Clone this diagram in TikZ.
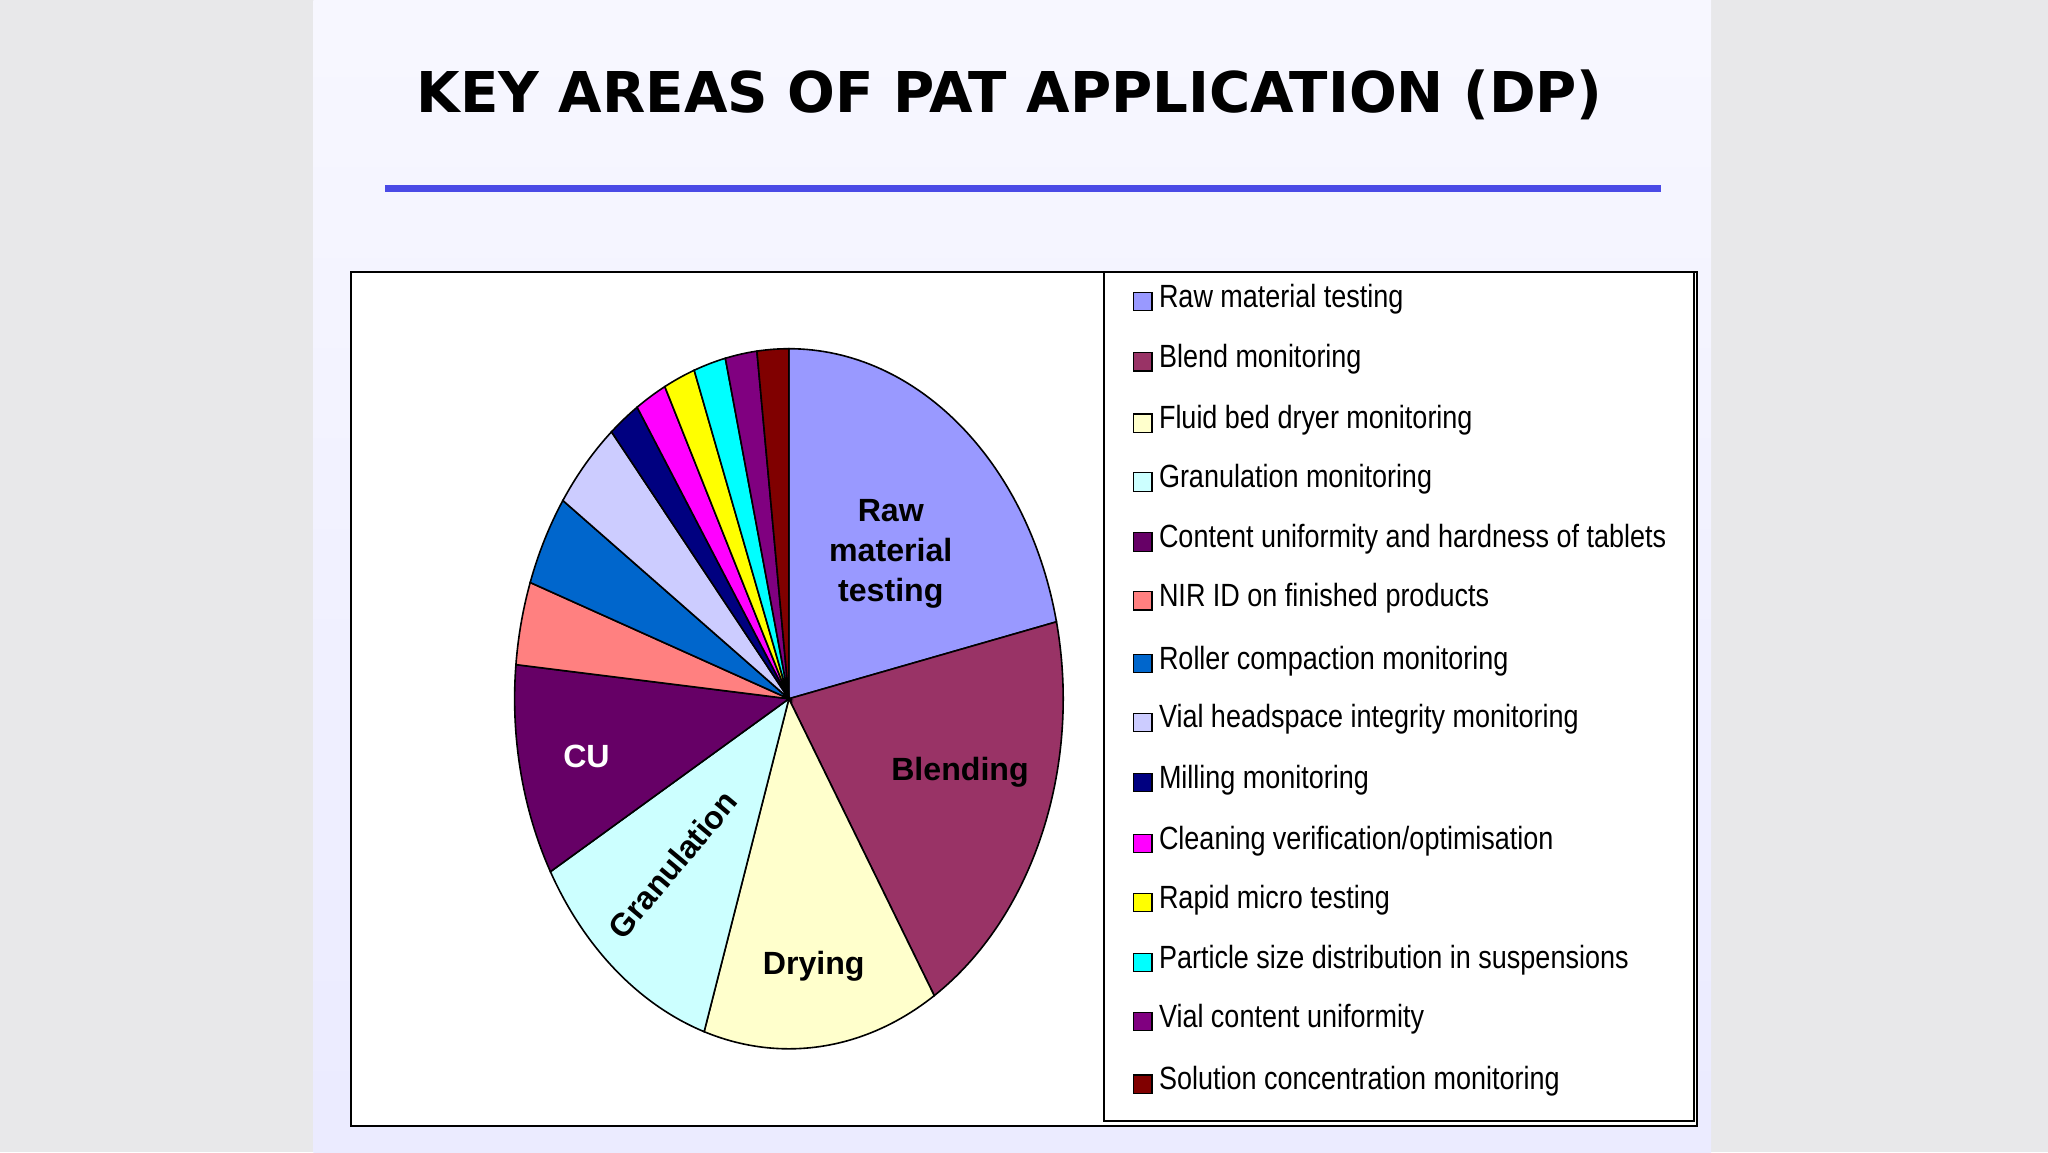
\documentclass[tikz,border=0pt]{standalone}
\usepackage{fontspec}
\setmainfont{Liberation Sans}
\newfontfamily\legfont[FakeStretch=0.84]{Liberation Sans}
\newfontfamily\titlefont{DejaVu Sans}
\definecolor{cRaw}{HTML}{9999FF}
\definecolor{cBlend}{HTML}{993366}
\definecolor{cDry}{HTML}{FFFFCC}
\definecolor{cGran}{HTML}{CCFFFF}
\definecolor{cCU}{HTML}{660066}
\definecolor{cNIR}{HTML}{FF8080}
\definecolor{cRoll}{HTML}{0066CC}
\definecolor{cVialH}{HTML}{CCCCFF}
\definecolor{cMill}{HTML}{000080}
\definecolor{cClean}{HTML}{FF00FF}
\definecolor{cRapid}{HTML}{FFFF00}
\definecolor{cPart}{HTML}{00FFFF}
\definecolor{cVialC}{HTML}{800080}
\definecolor{cSol}{HTML}{800000}
\definecolor{bgout}{HTML}{E8E8EA}
\definecolor{titleline}{HTML}{4A4AE6}
\tikzset{
  slice/.style={draw=black, line width=0.7pt},
  legsq/.style={draw=black, line width=0.5pt, minimum size=0.28cm, inner sep=0pt},
  legtxt/.style={anchor=west, inner sep=0pt, font=\legfont\fontsize{14}{16}\selectfont},
  pielab/.style={font=\bfseries\fontsize{14}{17.5}\selectfont, align=center}
}
\begin{document}
\begin{tikzpicture}
\useasboundingbox (0,0) rectangle (31.36,17.64);
\fill[bgout] (0,0) rectangle (31.36,17.64);
\shade[top color=white!97!blue, bottom color=white!92!blue] (4.8,0) rectangle (26.2,17.64);
\node[font=\titlefont\bfseries\fontsize{24.5}{30}\selectfont] (title) at (15.46,16.18) {KEY AREAS OF PAT APPLICATION (DP)};
\draw[titleline, line width=3pt] (5.9,14.76) -- (25.44,14.76);
% chart box
\draw[fill=white, line width=0.8pt] (5.38,0.4) rectangle (25.98,13.48);
\draw[line width=0.8pt] (16.9,0.48) rectangle (25.94,13.48);
% pie
\coordinate (c) at (12.08,6.94);
\foreach \a/\b/\col in {90/12.7/cRaw, 12.7/-58/cBlend, -58/-108/cDry, -108/-150.4/cGran, -150.4/-185.6/cCU, -185.6/-199.4/cNIR, -199.4/-214.5/cRoll, -214.5/-229.7/cVialH, -229.7/-236.4/cMill, -236.4/-243.1/cClean, -243.1/-249.8/cRapid, -249.8/-256.6/cPart, -256.6/-263.3/cVialC, -263.3/-270/cSol}{
  \draw[slice, fill=\col] (c) -- +(\a:4.2cm and 5.36cm) arc[start angle=\a, end angle=\b, x radius=4.2cm, y radius=5.36cm] -- cycle;
}
\node[pielab] (lraw) at (13.64,9.16) {Raw\\material\\testing};
\node[pielab] (lblend) at (14.7,5.82) {Blending};
\node[pielab] (ldry) at (12.46,2.84) {Drying};
\node[pielab, rotate=50] (lgran) at (10.3,4.4) {Granulation};
\node[pielab, text=white] (lcu) at (8.98,6.06) {CU};
% legend
\foreach \y/\col/\t [count=\i] in {13.06/cRaw/{Raw material testing}, 12.14/cBlend/{Blend monitoring}, 11.2/cDry/{Fluid bed dryer monitoring}, 10.3/cGran/{Granulation monitoring}, 9.38/cCU/{Content uniformity and hardness of tablets}, 8.48/cNIR/{NIR ID on finished products}, 7.52/cRoll/{Roller compaction monitoring}, 6.62/cVialH/{Vial headspace integrity monitoring}, 5.7/cMill/{Milling monitoring}, 4.76/cClean/{Cleaning verification/optimisation}, 3.86/cRapid/{Rapid micro testing}, 2.94/cPart/{Particle size distribution in suspensions}, 2.04/cVialC/{Vial content uniformity}, 1.08/cSol/{Solution concentration monitoring}}{
  \node[legsq, fill=\col] (sq\i) at (17.5,\y-0.04) {};
  \node[legtxt] (lt\i) at (17.74,\y) {\t};
}
\end{tikzpicture}
\end{document}
